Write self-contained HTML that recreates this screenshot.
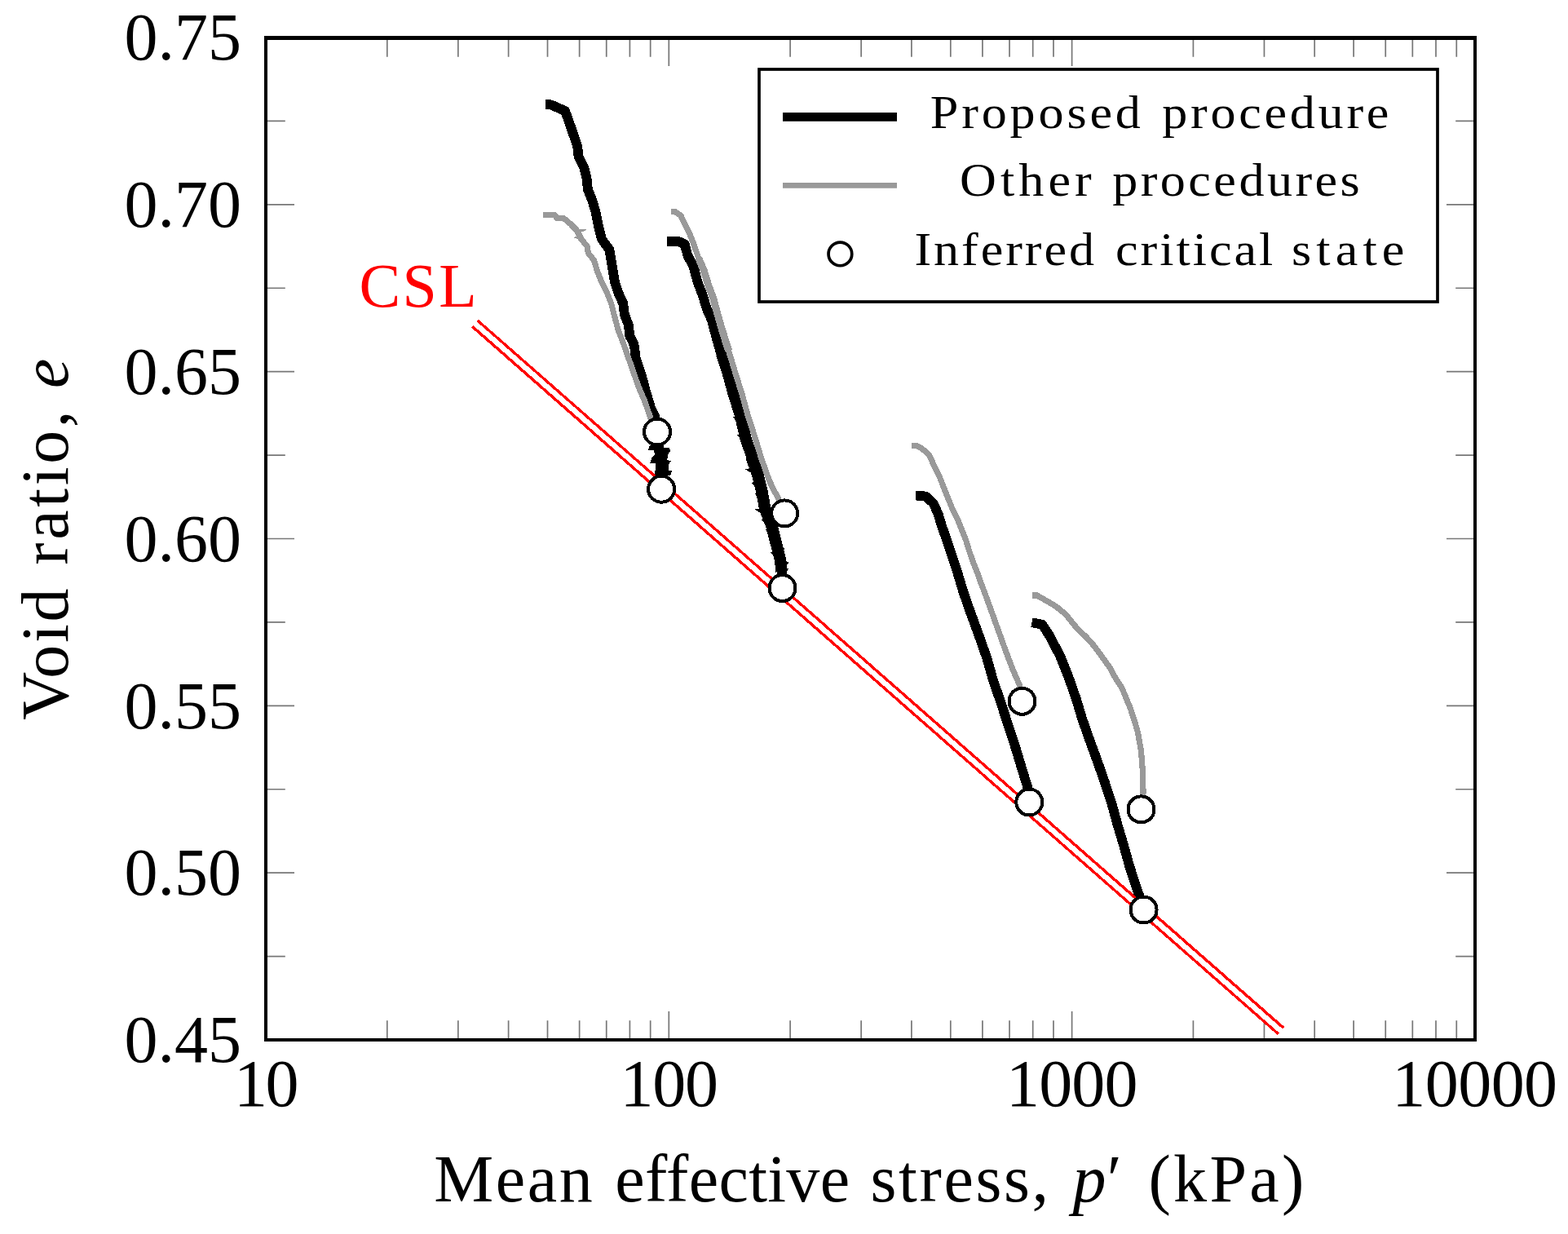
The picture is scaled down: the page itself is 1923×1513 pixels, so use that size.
<!DOCTYPE html>
<html><head><meta charset="utf-8"><style>
html,body{margin:0;padding:0;background:#fff;}
svg{display:block;}
text{font-family:"Liberation Serif", "DejaVu Serif", serif;fill:#000;}
</style></head><body>
<svg width="1923" height="1513" viewBox="0 0 1923 1513">
<rect width="1923" height="1513" fill="#fff"/>
<path d="M328.0,46.00H361.0M1807.0,46.00H1774.0M328.0,250.83H361.0M1807.0,250.83H1774.0M328.0,455.66H361.0M1807.0,455.66H1774.0M328.0,660.49H361.0M1807.0,660.49H1774.0M328.0,865.32H361.0M1807.0,865.32H1774.0M328.0,1070.15H361.0M1807.0,1070.15H1774.0M328.0,1274.98H361.0M1807.0,1274.98H1774.0M328.0,148.42H349.8M1807.0,148.42H1785.2M328.0,353.25H349.8M1807.0,353.25H1785.2M328.0,558.08H349.8M1807.0,558.08H1785.2M328.0,762.91H349.8M1807.0,762.91H1785.2M328.0,967.74H349.8M1807.0,967.74H1785.2M328.0,1172.57H349.8M1807.0,1172.57H1785.2M474.80,1273.0V1251.2M474.80,48.0V69.8M561.84,1273.0V1251.2M561.84,48.0V69.8M623.60,1273.0V1251.2M623.60,48.0V69.8M671.50,1273.0V1251.2M671.50,48.0V69.8M710.64,1273.0V1251.2M710.64,48.0V69.8M743.73,1273.0V1251.2M743.73,48.0V69.8M772.40,1273.0V1251.2M772.40,48.0V69.8M797.68,1273.0V1251.2M797.68,48.0V69.8M820.30,1273.0V1240.0M820.30,48.0V81.0M969.10,1273.0V1251.2M969.10,48.0V69.8M1056.14,1273.0V1251.2M1056.14,48.0V69.8M1117.90,1273.0V1251.2M1117.90,48.0V69.8M1165.80,1273.0V1251.2M1165.80,48.0V69.8M1204.94,1273.0V1251.2M1204.94,48.0V69.8M1238.03,1273.0V1251.2M1238.03,48.0V69.8M1266.70,1273.0V1251.2M1266.70,48.0V69.8M1291.98,1273.0V1251.2M1291.98,48.0V69.8M1314.60,1273.0V1240.0M1314.60,48.0V81.0M1463.40,1273.0V1251.2M1463.40,48.0V69.8M1550.44,1273.0V1251.2M1550.44,48.0V69.8M1612.20,1273.0V1251.2M1612.20,48.0V69.8M1660.10,1273.0V1251.2M1660.10,48.0V69.8M1699.24,1273.0V1251.2M1699.24,48.0V69.8M1732.33,1273.0V1251.2M1732.33,48.0V69.8M1761.00,1273.0V1251.2M1761.00,48.0V69.8M1786.28,1273.0V1251.2M1786.28,48.0V69.8" stroke="#777" stroke-width="1.7" fill="none"/>
<g fill="none" stroke-linejoin="round" stroke-linecap="butt" shape-rendering="crispEdges">
<polyline points="669.1,128.4 675.7,128.4 693.0,136.0 699.1,152.9 708.1,179.3 709.7,192.5 716.3,205.7 719.6,219.0 720.9,232.2 726.2,245.4 730.2,258.6 733.5,275.0 737.8,292.9 747.3,306.1 751.7,332.5 754.0,345.7 758.3,359.0 764.3,372.2 765.8,385.4 770.9,398.6 772.2,411.8 776.5,420.0 778.1,425.1 779.5,438.4 786.6,459.7 791.9,479.5 797.8,499.3 803.1,509.9 806.0,529.0 810.0,560.0 811.0,600.0" stroke="#000" stroke-width="11.8"/>
<polygon points="797.0,546.0 795.0,551.5 802.0,552.0 803.0,557.0 799.0,562.0 797.5,567.5 805.0,568.0 803.0,580.0 803.0,585.0 822.0,583.0 824.0,577.5 820.0,577.0 820.0,570.0 822.7,565.3 818.0,564.0 820.0,555.0 822.0,553.0 821.0,549.0 813.0,549.0 813.0,546.0" fill="#000" stroke="none"/>
<polyline points="665.8,263.4 679.7,263.4 683.6,267.8 691.5,267.8 699.5,274.4 707.4,282.3 712.7,292.9 720.0,302.1 721.3,310.0 728.6,319.3 732.5,332.5 737.8,345.7 744.4,359.0 749.7,372.2 753.0,385.4 758.3,405.2 763.6,418.5 770.5,438.3 773.4,446.4 782.6,472.9 791.0,492.7 797.8,512.5 806.0,529.0" stroke="#999" stroke-width="7.2"/>
<g fill="#999" stroke="none"><polygon points="720.6,281.6 707.2,280.6 710.5,285.6"/><polygon points="702.8,290.9 709.7,289.9 712.8,294.9"/></g>
<polyline points="817.8,296.2 833.0,296.2 839.7,299.5 843.6,314.0 850.2,325.9 855.5,345.7 862.1,362.9 866.8,378.8 872.7,392.0 878.0,411.8 884.3,434.0 891.6,456.4 898.9,482.9 907.2,509.3 913.2,535.7 921.4,560.0 929.1,581.2 934.4,602.3 938.1,623.5 946.5,644.6 951.8,665.8 957.1,686.9 958.7,700.7 959.5,721.0" stroke="#000" stroke-width="11.8"/>
<polyline points="885.1,434.0 892.4,456.4 899.7,482.9 908.0,509.3 914.0,535.7 922.2,560.0" stroke="#000" stroke-width="14.2"/>
<polyline points="921.4,560.0 929.1,581.2 934.4,602.3 938.1,623.5 946.5,644.6 951.8,665.8 957.1,686.9 958.7,700.7" stroke="#000" stroke-width="14.5"/>
<g fill="#000" stroke="none"><polygon points="899.1,511.5 902.6,511.0 904.3,518.5"/><polygon points="904.3,533.5 907.6,533.0 909.8,540.5"/><polygon points="913.2,574.8 921.6,574.3 924.3,581.8"/><polygon points="921.2,591.7 926.6,591.2 928.5,598.7"/><polygon points="925.9,605.5 929.9,605.0 931.2,612.5"/><polygon points="925.9,624.5 933.3,624.0 936.3,631.5"/><polygon points="933.3,637.2 938.4,636.7 941.3,644.2"/><polygon points="938.1,648.8 942.4,648.3 944.3,655.8"/><polygon points="944.9,677.4 949.6,676.9 951.5,684.4"/><polygon points="950.8,691.1 952.5,690.6 953.4,698.1"/><polygon points="959.7,663.6 956.1,663.1 958.0,670.6"/><polygon points="961.9,672.1 958.3,671.6 960.1,679.1"/><polygon points="967.7,689.0 962.3,688.5 963.2,696.0"/><polygon points="966.6,697.5 963.3,697.0 963.8,704.5"/></g>
<polyline points="823.1,259.8 828.4,259.8 835.0,264.5 839.7,274.4 845.6,286.3 850.9,299.5 856.8,316.7 863.5,332.5 868.7,349.7 874.7,365.6 879.3,382.8 884.6,401.3 889.9,418.5 893.6,430.0 901.6,456.4 909.9,482.9 917.2,509.3 925.7,535.7 933.7,562.2 943.2,588.6 948.5,600.0 953.3,608.5 962.2,629.4" stroke="#999" stroke-width="7.2"/>
<polyline points="856.8,316.7 863.5,332.5 868.7,349.7 874.7,365.6 879.3,382.8 884.6,401.3 889.9,418.5 893.6,430.0" stroke="#999" stroke-width="9"/>
<polyline points="1123.0,607.5 1135.2,608.5 1144.7,617.1 1150.7,630.7 1154.8,644.2 1164.2,671.3 1173.2,698.4 1181.3,725.5 1190.8,752.6 1200.8,779.8 1210.3,806.9 1217.9,834.0 1227.4,861.1 1236.1,888.2 1245.0,915.3 1253.2,942.4 1259.9,964.1 1262.3,983.5" stroke="#000" stroke-width="11.8"/>
<polyline points="1118.1,546.5 1123.8,546.5 1130.4,549.8 1139.7,557.8 1144.9,569.7 1151.6,582.9 1156.8,596.1 1162.1,609.3 1167.4,622.5 1174.0,635.7 1179.3,649.0 1184.6,662.2 1188.6,675.4 1193.2,688.6 1198.5,701.8 1203.1,715.1 1207.0,725.0 1214.8,746.4 1224.0,772.0 1234.1,800.0 1241.7,820.0 1250.4,840.0 1253.5,859.8" stroke="#999" stroke-width="7.2"/>
<polyline points="1265.5,763.2 1278.3,765.8 1286.6,778.6 1300.2,804.4 1310.5,830.2 1319.5,855.9 1327.3,881.7 1336.3,907.4 1345.8,933.2 1354.8,959.0 1363.3,984.7 1370.3,1010.5 1378.0,1036.2 1385.2,1062.0 1393.5,1087.8 1398.1,1100.6 1402.6,1115.5" stroke="#000" stroke-width="11.8"/>
<polyline points="1266.3,729.9 1271.6,729.9 1282.2,735.9 1295.4,743.8 1306.7,752.9 1313.9,761.9 1322.2,772.0 1331.5,780.4 1341.4,791.5 1353.7,808.1 1361.0,818.5 1368.5,832.2 1376.0,843.5 1381.5,857.1 1386.5,869.0 1391.6,884.9 1395.5,898.0 1399.4,920.3 1401.5,946.1 1402.0,971.8 1399.5,992.4" stroke="#999" stroke-width="7.2"/>
</g>
<line x1="582.2" y1="396.5" x2="1571" y2="1264" stroke="#f00" stroke-width="13.2" shape-rendering="crispEdges"/>
<line x1="581.2" y1="395.5" x2="1572" y2="1265" stroke="#fff" stroke-width="6.4" shape-rendering="crispEdges"/>
<g fill="#fff" stroke="#000" stroke-width="4" shape-rendering="crispEdges">
<circle cx="806" cy="529.5" r="16"/><circle cx="811.1" cy="599.7" r="16"/><circle cx="962.2" cy="629.4" r="16"/><circle cx="959.5" cy="721" r="16"/><circle cx="1253.5" cy="859.8" r="16"/><circle cx="1262.3" cy="983.5" r="16"/><circle cx="1399.5" cy="992.4" r="16"/><circle cx="1402.6" cy="1115.5" r="16"/>
</g>
<rect x="326.0" y="46.0" width="1483.0" height="1229.0" fill="none" stroke="#000" stroke-width="4"/>
<rect x="326.0" y="48" width="1483.0" height="1" fill="#000"/>
<rect x="931" y="85" width="832" height="285" fill="#fff" stroke="#000" stroke-width="3.7"/>
<line x1="960" y1="143.4" x2="1100" y2="143.4" stroke="#000" stroke-width="10.8"/>
<line x1="960" y1="227.4" x2="1100" y2="227.4" stroke="#999" stroke-width="6.7"/>
<circle cx="1030.4" cy="311.4" r="14.35" fill="#fff" stroke="#000" stroke-width="3.7"/>
<text id="y75" x="296.00" y="73.20" font-size="82" text-anchor="end">0.75</text>
<text id="y70" x="296.00" y="278.03" font-size="82" text-anchor="end">0.70</text>
<text id="y65" x="296.00" y="482.86" font-size="82" text-anchor="end">0.65</text>
<text id="y60" x="296.00" y="687.69" font-size="82" text-anchor="end">0.60</text>
<text id="y55" x="296.00" y="892.52" font-size="82" text-anchor="end">0.55</text>
<text id="y50" x="296.00" y="1097.35" font-size="82" text-anchor="end">0.50</text>
<text id="y45" x="296.00" y="1302.18" font-size="82" text-anchor="end">0.45</text>
<text id="x10" x="287.00" y="1356.00" font-size="82" textLength="79.40" lengthAdjust="spacing">10</text>
<text id="x100" x="760.50" y="1356.00" font-size="82" textLength="120.40" lengthAdjust="spacing">100</text>
<text id="x1000" x="1234.00" y="1356.00" font-size="82" textLength="161.40" lengthAdjust="spacing">1000</text>
<text id="x10000" x="1707.30" y="1356.00" font-size="82" textLength="202.80" lengthAdjust="spacing">10000</text>
<text id="xl1" x="532.20" y="1473.00" font-size="82" textLength="194.50" lengthAdjust="spacing">Mean</text>
<text id="xl2" x="754.20" y="1473.00" font-size="82" textLength="287.88" lengthAdjust="spacing">effective</text>
<text id="xl3" x="1067.40" y="1473.00" font-size="82" textLength="218.72" lengthAdjust="spacing">stress,</text>
<text id="xl4" x="1315.40" y="1473.00" font-size="82" textLength="60.34" lengthAdjust="spacing"><tspan font-style="italic">p</tspan>′</text>
<text id="xl5" x="1408.40" y="1473.00" font-size="82" textLength="191.02" lengthAdjust="spacing">(kPa)</text>
<text id="yl1" transform="translate(83.00,883.00) rotate(-90)" font-size="82" textLength="161.44" lengthAdjust="spacing">Void</text>
<text id="yl2" transform="translate(83.00,692.80) rotate(-90)" font-size="82" textLength="189.38" lengthAdjust="spacing">ratio,</text>
<text id="yl3" transform="translate(83.00,476.00) rotate(-90)" font-size="82"><tspan font-style="italic">e</tspan></text>
<text id="CSL" x="440.60" y="376.00" font-size="76" textLength="143.99" lengthAdjust="spacing" style="fill:#f00">CSL</text>
<text id="leg1a" transform="translate(1140.80,157.10) scale(1.08,1)" font-size="57.5" textLength="238.98" lengthAdjust="spacing">Proposed</text>
<text id="leg1b" transform="translate(1425.20,157.10) scale(1.08,1)" font-size="57.5" textLength="257.58" lengthAdjust="spacing">procedure</text>
<text id="leg2a" transform="translate(1177.00,240.40) scale(1.08,1)" font-size="57.5" textLength="149.79" lengthAdjust="spacing">Other</text>
<text id="leg2b" transform="translate(1364.20,240.40) scale(1.08,1)" font-size="57.5" textLength="281.06" lengthAdjust="spacing">procedures</text>
<text id="leg3a" transform="translate(1121.40,324.50) scale(1.08,1)" font-size="57.5" textLength="204.35" lengthAdjust="spacing">Inferred</text>
<text id="leg3b" transform="translate(1368.00,324.50) scale(1.08,1)" font-size="57.5" textLength="179.02" lengthAdjust="spacing">critical</text>
<text id="leg3c" transform="translate(1584.00,324.50) scale(1.08,1)" font-size="57.5" textLength="128.12" lengthAdjust="spacing">state</text>
</svg>
</body></html>
